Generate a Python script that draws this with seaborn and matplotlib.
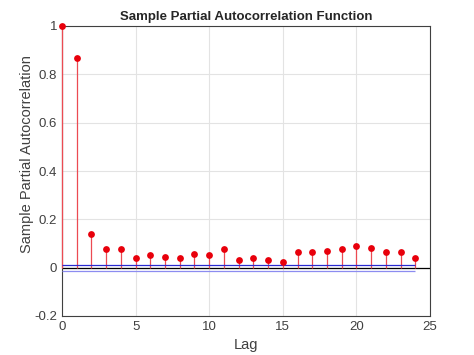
import pandas as pd
import seaborn as sns
import numpy as np
import matplotlib.pyplot as plt
sns.set_style("white")
plt.rcParams['font.family'] = ['Arial', 'Liberation Sans', 'DejaVu Sans']

# Data
lags = list(range(25))
pacf = [1.0, 0.868, 0.139, 0.077, 0.077, 0.039, 0.054, 0.044, 0.039, 0.055,
        0.052, 0.077, 0.033, 0.041, 0.032, 0.025, 0.065, 0.065, 0.070, 0.077,
        0.088, 0.083, 0.065, 0.065, 0.041]
bound = 0.0125
xticks = [0, 5, 10, 15, 20, 25]
yticks = [-0.2, 0, 0.2, 0.4, 0.6, 0.8, 1]
ytick_labels = ['-0.2', '0', '0.2', '0.4', '0.6', '0.8', '1']

df = pd.DataFrame({'Lag': lags, 'PACF': pacf})

fig = plt.figure(figsize=(4.74, 3.55), dpi=100)
ax = fig.add_axes([62/474, 1 - 316/355, (430 - 62)/474, (316 - 26)/355])

ax.grid(True, color='#e3e3e3', linewidth=0.8)
ax.set_axisbelow(True)

ax.axhline(0, color='black', linewidth=0.9, zorder=2)
ax.vlines(df['Lag'], 0, df['PACF'], color='#ec4a52', linewidth=0.9, zorder=3,
          clip_on=False)
sns.scatterplot(data=df, x='Lag', y='PACF', color='#e8000b', s=24,
                edgecolor='#e8000b', linewidth=0, zorder=4, clip_on=False, ax=ax)
ax.hlines([bound, -bound], 0, max(lags), colors=['#2a2ad0', '#8c8cf0'],
          linewidth=0.9, zorder=3)

ax.set_xlim(0, 25)
ax.set_ylim(-0.2, 1)
ax.set_xticks(xticks)
ax.set_yticks(yticks)
ax.set_yticklabels(ytick_labels)
ax.tick_params(direction='in', length=3, labelsize=9.5, colors='#404040')
for s in ax.spines.values():
    s.set_color('#404040')
    s.set_linewidth(0.8)

ax.set_xlabel('Lag', fontsize=10.5, color='#404040', labelpad=4)
ax.set_ylabel('Sample Partial Autocorrelation', fontsize=10.5, color='#404040')
ax.yaxis.set_label_coords(-0.075, 0.56)
ax.set_title('Sample Partial Autocorrelation Function', fontsize=9.5,
             fontweight='bold', pad=4)

plt.savefig('out.png', dpi=100)
